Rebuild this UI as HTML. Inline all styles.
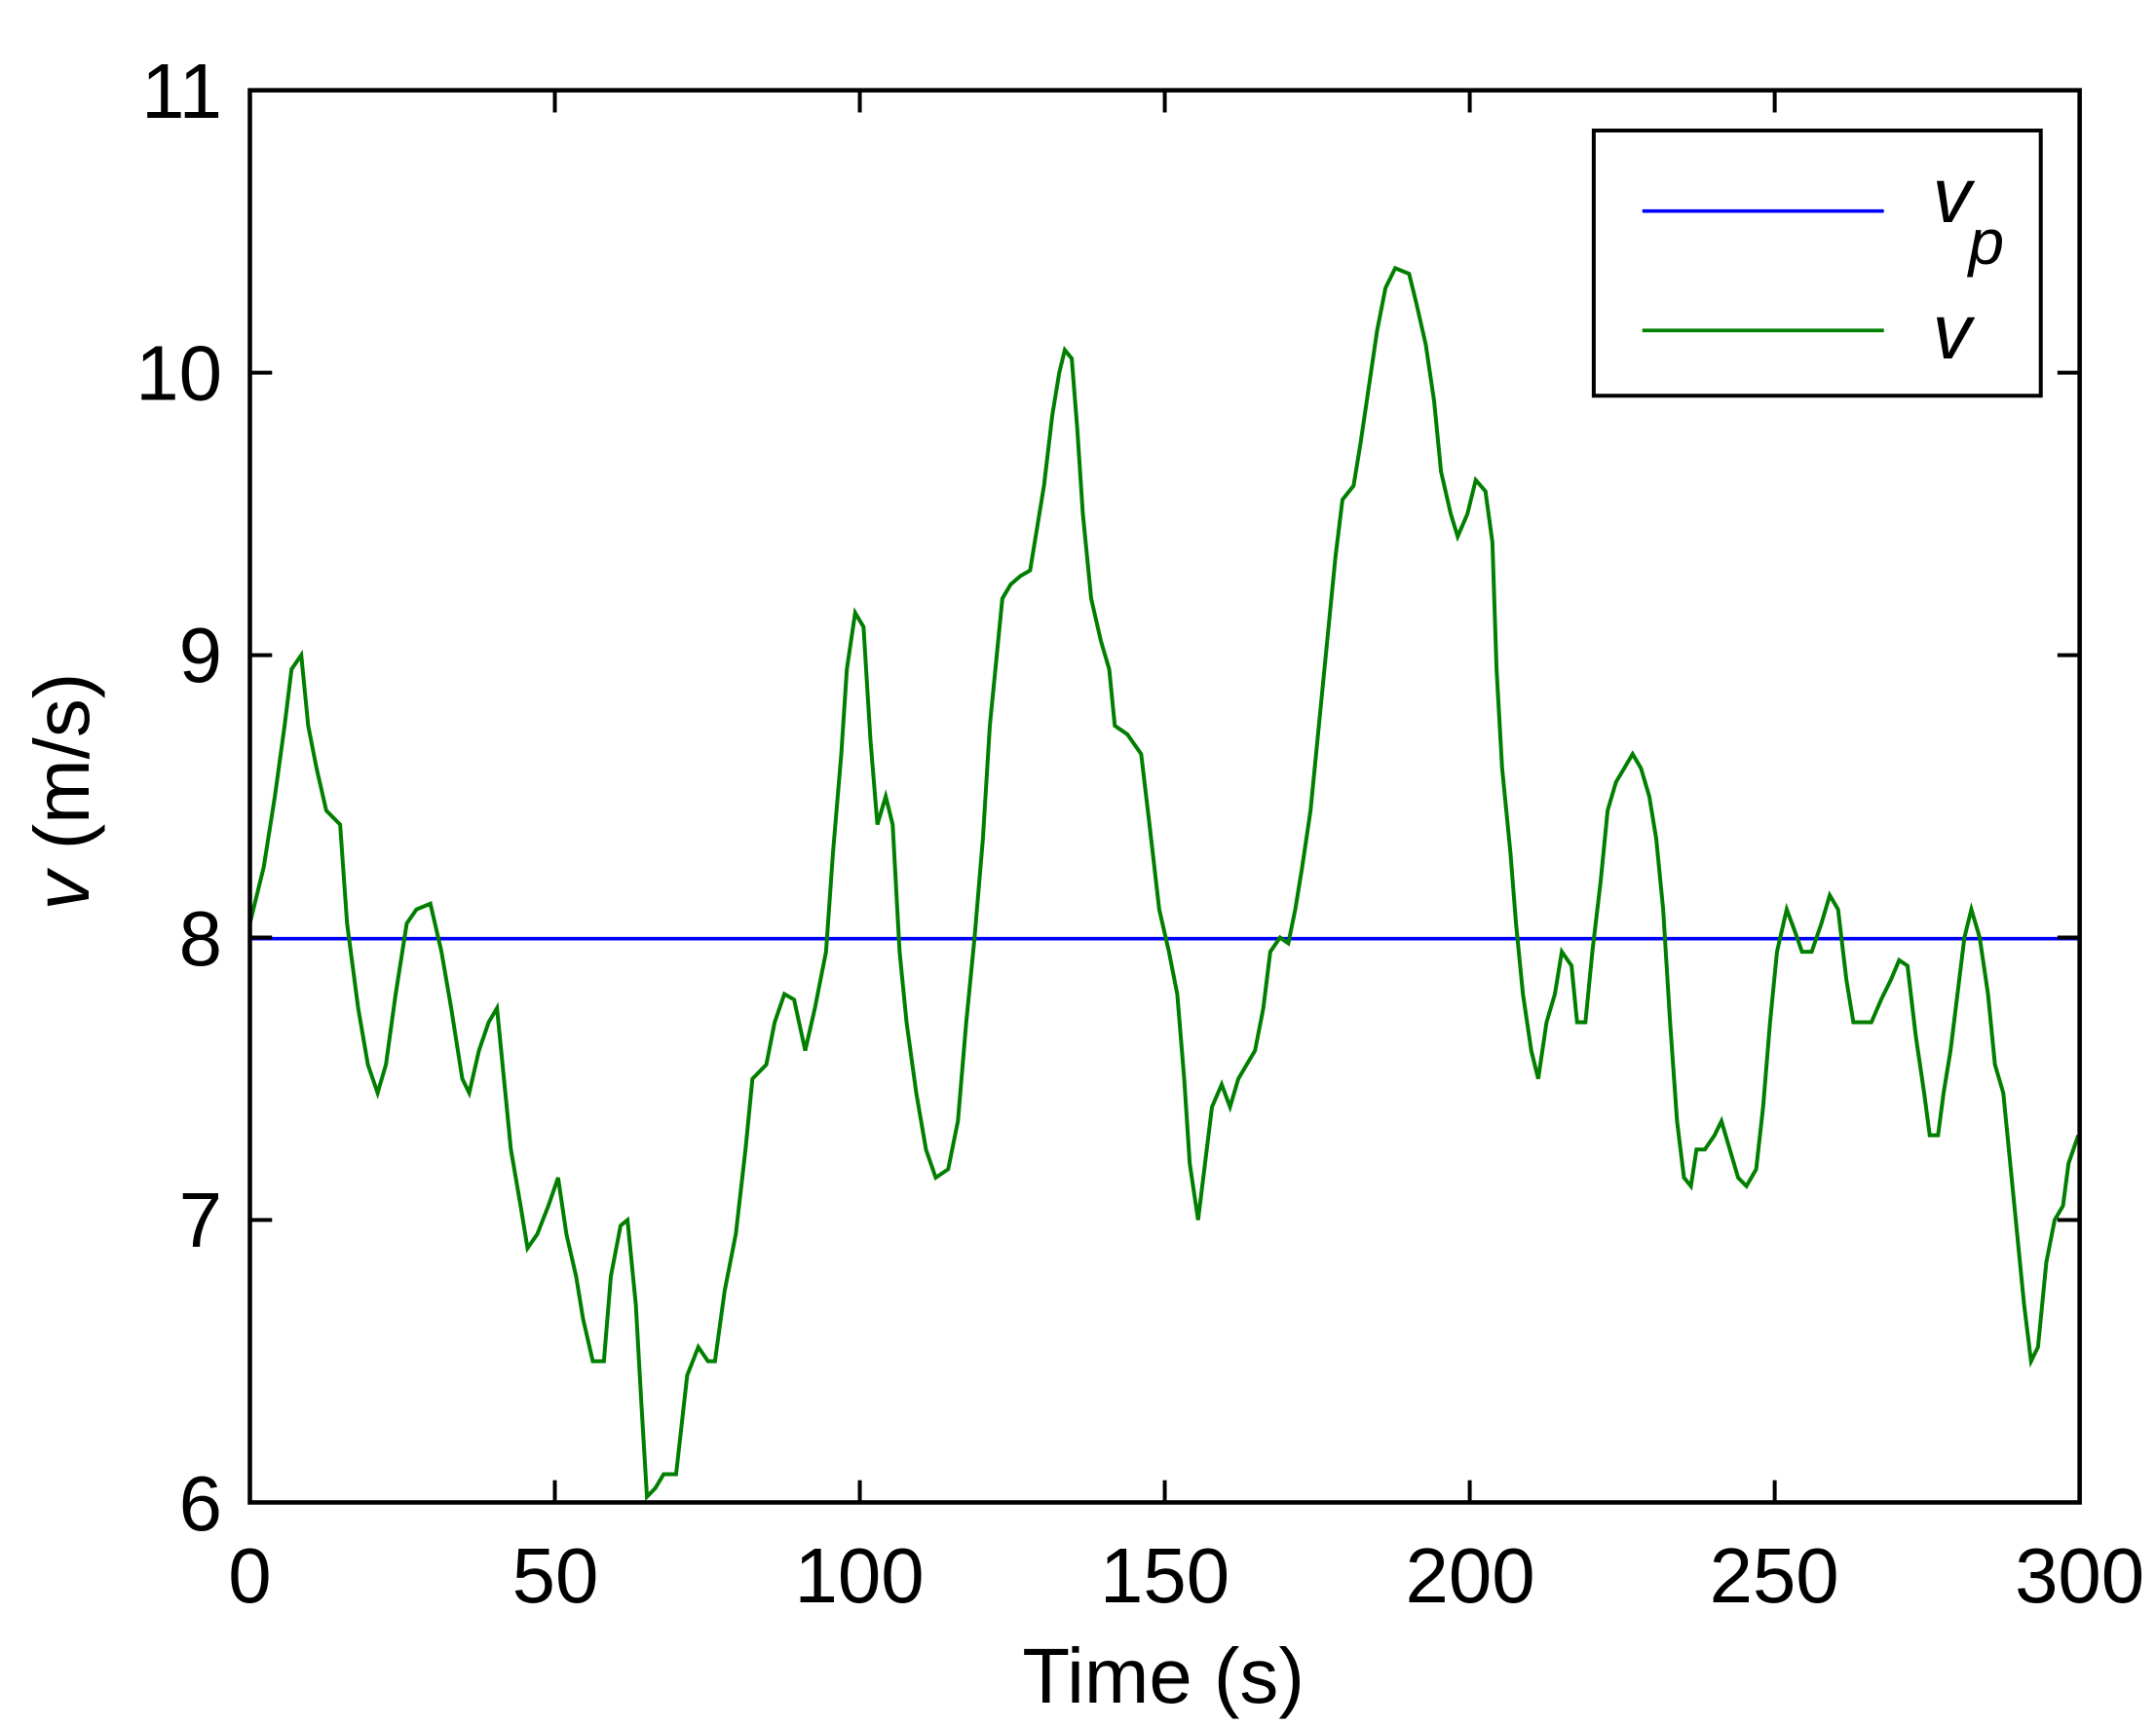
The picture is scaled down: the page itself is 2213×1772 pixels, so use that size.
<!DOCTYPE html>
<html><head><meta charset="utf-8"><style>
html,body{margin:0;padding:0;background:#fff;}
svg{display:block;}
text{font-family:"Liberation Sans",Arial,sans-serif;fill:#000;}
</style></head><body>
<svg id="s" width="2213" height="1772" viewBox="0 0 1553 1243" preserveAspectRatio="none" xmlns="http://www.w3.org/2000/svg">
<rect x="0" y="0" width="1553" height="1243" fill="#fff"/>
<line x1="180" y1="676" x2="1498" y2="676" stroke="#0000ff" stroke-width="2.6"/>
<polyline id="g" fill="none" stroke="#007f00" stroke-width="2.8" points=""/>
<rect x="180" y="65" width="1318" height="1017" fill="none" stroke="#000" stroke-width="3.2"/>
<g id="ticks" stroke="#000" stroke-width="2.8"></g>
<g font-size="56" text-anchor="end">
<text x="160" y="85">11</text>
<text x="160" y="288">10</text>
<text x="160" y="491">9</text>
<text x="160" y="695">8</text>
<text x="160" y="898">7</text>
<text x="160" y="1102">6</text>
</g>
<g font-size="56" text-anchor="middle">
<text x="180" y="1154">0</text>
<text x="400" y="1154">50</text>
<text x="619" y="1154">100</text>
<text x="839" y="1154">150</text>
<text x="1059" y="1154">200</text>
<text x="1278" y="1154">250</text>
<text x="1498" y="1154">300</text>
<text x="838" y="1226">Time (s)</text>
</g>
<text font-size="56" text-anchor="middle" transform="translate(64,570) rotate(-90)"><tspan font-style="italic">v</tspan> (m/s)</text>
<rect x="1148" y="94" width="322" height="191" fill="#fff" stroke="#000" stroke-width="2.8"/>
<line x1="1183" y1="152" x2="1357" y2="152" stroke="#0000ff" stroke-width="2.6"/>
<line x1="1183" y1="238" x2="1357" y2="238" stroke="#007f00" stroke-width="2.6"/>
<text x="1392" y="160" font-size="56" font-style="italic">v</text>
<text x="1418" y="190" font-size="46" font-style="italic">p</text>
<text x="1392" y="258" font-size="56" font-style="italic">v</text>
</svg>
<script>
var d=[180,8.05,190,8.25,198,8.5,205,8.75,210,8.95,217,9.0,222,8.75,228,8.6,235,8.45,245,8.4,250,8.05,258,7.75,265,7.55,272,7.45,278,7.55,285,7.8,293,8.05,300,8.1,310,8.12,318,7.95,325,7.75,333,7.5,338,7.45,345,7.6,352,7.7,358,7.75,362,7.55,368,7.25,375,7.05,380,6.9,387,6.95,395,7.05,402,7.15,408,6.95,415,6.8,420,6.65,427,6.5,435,6.5,440,6.8,447,6.98,452,7.0,458,6.7,462,6.35,466,6.02,472,6.05,478,6.1,487,6.1,495,6.45,503,6.55,510,6.5,515,6.5,522,6.75,530,6.95,537,7.25,542,7.5,552,7.55,558,7.7,565,7.8,572,7.78,580,7.6,587,7.75,595,7.95,600,8.3,606,8.65,610,8.95,616,9.15,622,9.1,627,8.7,632,8.4,638,8.5,643,8.4,648,7.95,653,7.7,660,7.45,667,7.25,674,7.15,683,7.18,690,7.35,696,7.7,702,8.0,708,8.35,713,8.75,718,9.0,722,9.2,728,9.25,735,9.28,742,9.3,747,9.45,752,9.6,758,9.85,763,10.0,767,10.08,772,10.05,776,9.8,780,9.5,786,9.2,793,9.05,799,8.95,803,8.75,812,8.72,822,8.65,828,8.4,835,8.1,842,7.95,848,7.8,853,7.5,857,7.2,863,7.0,868,7.2,873,7.4,880,7.48,886,7.4,892,7.5,898,7.55,904,7.6,910,7.75,915,7.95,922,8.0,928,7.98,933,8.1,938,8.25,944,8.45,950,8.75,956,9.05,962,9.35,967,9.55,975,9.6,980,9.75,986,9.95,992,10.15,998,10.3,1005,10.37,1015,10.35,1020,10.25,1027,10.1,1033,9.9,1038,9.65,1045,9.5,1050,9.42,1057,9.5,1063,9.62,1070,9.58,1075,9.4,1078,8.95,1082,8.6,1088,8.3,1092,8.05,1097,7.8,1103,7.6,1108,7.5,1114,7.7,1120,7.8,1125,7.95,1132,7.9,1136,7.7,1142,7.7,1147,7.95,1153,8.2,1158,8.45,1164,8.55,1170,8.6,1176,8.65,1182,8.6,1188,8.5,1193,8.35,1198,8.1,1203,7.7,1208,7.35,1213,7.15,1218,7.12,1222,7.25,1228,7.25,1235,7.3,1240,7.35,1246,7.25,1252,7.15,1258,7.12,1265,7.18,1270,7.4,1275,7.7,1280,7.95,1287,8.1,1293,8.02,1298,7.95,1305,7.95,1312,8.05,1318,8.15,1324,8.1,1330,7.85,1335,7.7,1340,7.7,1348,7.7,1355,7.78,1362,7.85,1368,7.92,1374,7.9,1380,7.65,1386,7.45,1390,7.3,1396,7.3,1400,7.45,1405,7.6,1410,7.8,1415,8.0,1420,8.1,1426,8.0,1432,7.8,1437,7.55,1443,7.45,1448,7.2,1453,6.95,1458,6.7,1463,6.5,1468,6.55,1474,6.85,1480,7.0,1486,7.05,1490,7.2,1497,7.3];
var p=[];for(var i=0;i<d.length;i+=2){p.push(d[i]+","+(1082-(d[i+1]-6)*203.4).toFixed(1));}
document.getElementById("g").setAttribute("points",p.join(" "));
var t="";
for(var k=1;k<6;k++){var x=180+k*219.67;t+='<line x1="'+x+'" y1="1082" x2="'+x+'" y2="1066"/><line x1="'+x+'" y1="65" x2="'+x+'" y2="81"/>';}
for(var k=1;k<5;k++){var y=1082-k*203.4;t+='<line x1="180" y1="'+y+'" x2="196" y2="'+y+'"/><line x1="1498" y1="'+y+'" x2="1482" y2="'+y+'"/>';}
document.getElementById("ticks").innerHTML=t;
</script>
</body></html>
